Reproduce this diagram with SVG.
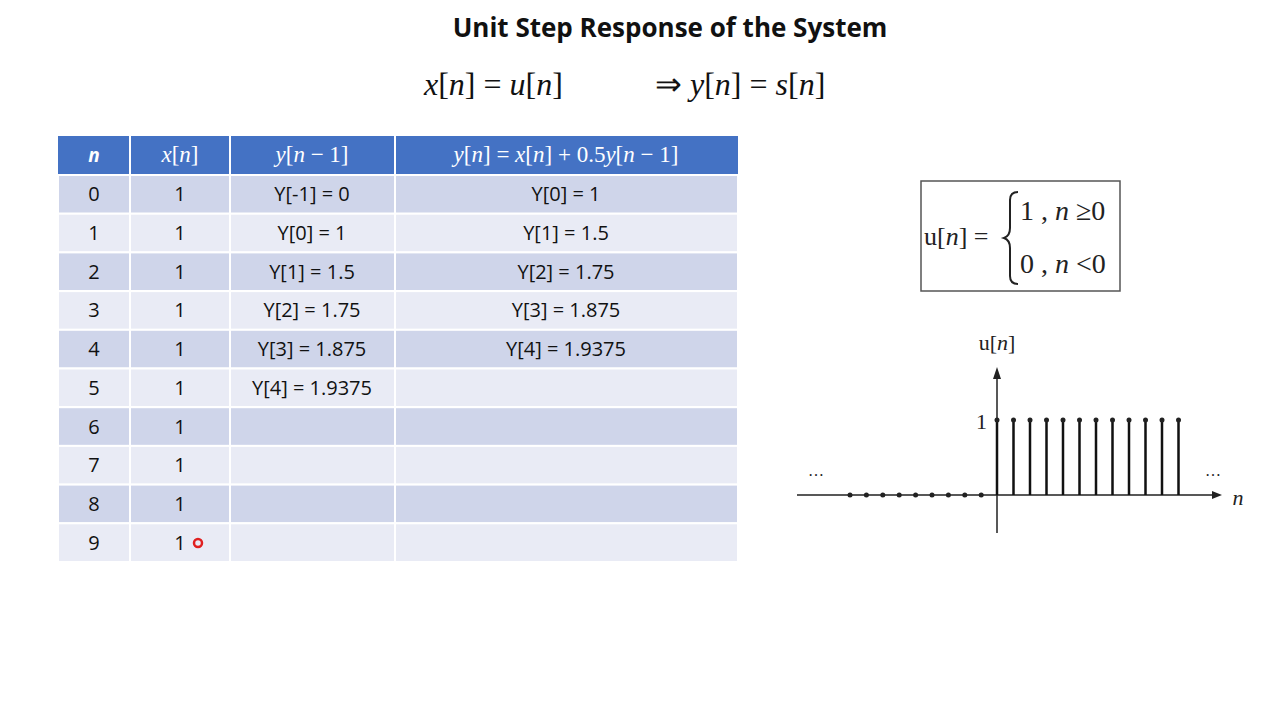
<svg xmlns="http://www.w3.org/2000/svg" width="1280" height="720" viewBox="0 0 1280 720">
<style>
.t{font-family:"Open Sans","Liberation Sans",sans-serif;font-size:20px;fill:#111;text-anchor:middle}
.m{font-family:"Liberation Serif",serif;font-size:23px;fill:#fff;text-anchor:middle}
.e{fill:#cfd5ea}.o{fill:#e9ebf5}
.s{stroke:#111;stroke-width:2.5}
</style>
<rect width="1280" height="720" fill="#fff"/>
<text x="670" y="37" style="font-family:'Open Sans','Liberation Sans',sans-serif;font-size:26px;font-weight:bold" text-anchor="middle" fill="#111">Unit Step Response of the System</text>
<g style="font-family:'Liberation Serif',serif;font-size:32px" fill="#111">
<text x="424" y="95"><tspan font-style="italic">x</tspan>[<tspan font-style="italic">n</tspan>] = <tspan font-style="italic">u</tspan>[<tspan font-style="italic">n</tspan>]</text>
<text x="655" y="95">⇒ <tspan font-style="italic">y</tspan>[<tspan font-style="italic">n</tspan>] = <tspan font-style="italic">s</tspan>[<tspan font-style="italic">n</tspan>]</text>
</g>
<g id="table">
<rect x="58" y="136" width="680" height="38" fill="#4472c4"/>
<g stroke="#fff" stroke-width="2">
<rect x="58" y="175" width="680" height="38.7" class="e"/>
<rect x="58" y="213.7" width="680" height="38.7" class="o"/>
<rect x="58" y="252.4" width="680" height="38.7" class="e"/>
<rect x="58" y="291.1" width="680" height="38.7" class="o"/>
<rect x="58" y="329.8" width="680" height="38.7" class="e"/>
<rect x="58" y="368.5" width="680" height="38.7" class="o"/>
<rect x="58" y="407.2" width="680" height="38.7" class="e"/>
<rect x="58" y="445.9" width="680" height="38.7" class="o"/>
<rect x="58" y="484.6" width="680" height="38.7" class="e"/>
<rect x="58" y="523.3" width="680" height="38.7" class="o"/>
<path d="M130 136V562M230 136V562M395 136V562"/>
</g>
<text x="94" y="162" style="font-family:'Open Sans','Liberation Sans',sans-serif;font-size:19px;font-weight:bold;font-style:italic" fill="#fff" text-anchor="middle">n</text>
<text class="m" x="180" y="162"><tspan font-style="italic">x</tspan>[<tspan font-style="italic">n</tspan>]</text>
<text class="m" x="312" y="162"><tspan font-style="italic">y</tspan>[<tspan font-style="italic">n</tspan> − 1]</text>
<text class="m" x="566" y="162"><tspan font-style="italic">y</tspan>[<tspan font-style="italic">n</tspan>] = <tspan font-style="italic">x</tspan>[<tspan font-style="italic">n</tspan>] + 0.5<tspan font-style="italic">y</tspan>[<tspan font-style="italic">n</tspan> − 1]</text>
<g class="t">
<text x="94" y="201">0</text><text x="180" y="201">1</text><text x="312" y="201">Y[-1] = 0</text><text x="566" y="201">Y[0] = 1</text>
<text x="94" y="240">1</text><text x="180" y="240">1</text><text x="312" y="240">Y[0] = 1</text><text x="566" y="240">Y[1] = 1.5</text>
<text x="94" y="279">2</text><text x="180" y="279">1</text><text x="312" y="279">Y[1] = 1.5</text><text x="566" y="279">Y[2] = 1.75</text>
<text x="94" y="317">3</text><text x="180" y="317">1</text><text x="312" y="317">Y[2] = 1.75</text><text x="566" y="317">Y[3] = 1.875</text>
<text x="94" y="356">4</text><text x="180" y="356">1</text><text x="312" y="356">Y[3] = 1.875</text><text x="566" y="356">Y[4] = 1.9375</text>
<text x="94" y="395">5</text><text x="180" y="395">1</text><text x="312" y="395">Y[4] = 1.9375</text>
<text x="94" y="434">6</text><text x="180" y="434">1</text>
<text x="94" y="472">7</text><text x="180" y="472">1</text>
<text x="94" y="511">8</text><text x="180" y="511">1</text>
<text x="94" y="550">9</text><text x="180" y="550">1</text>
</g>
<circle cx="198" cy="543" r="4" fill="none" stroke="#e02020" stroke-width="2.5"/>
</g>
<g id="def">
<rect x="921" y="181" width="199" height="110" fill="#fff" stroke="#555" stroke-width="1.5"/>
<text x="924" y="245" style="font-family:'Liberation Serif',serif;font-size:26px" fill="#222">u[<tspan font-style="italic">n</tspan>] =</text>
<path d="M1018 192 q-8 0 -8 8 v28 q0 8 -6 10 q6 2 6 10 v28 q0 8 8 8" fill="none" stroke="#222" stroke-width="2"/>
<text x="1020" y="220" style="font-family:'Liberation Serif',serif;font-size:28px" fill="#222">1 , <tspan font-style="italic">n</tspan> ≥0</text>
<text x="1020" y="273" style="font-family:'Liberation Serif',serif;font-size:28px" fill="#222">0 , <tspan font-style="italic">n</tspan> &lt;0</text>
</g>
<g id="plot">
<path d="M797 495H1214M997 533V378" stroke="#222" stroke-width="1.5"/>
<path d="M1222 495l-10 -4v8z M997 367l-4 12h8z" fill="#222"/>
<text x="997" y="350" style="font-family:'Liberation Serif',serif;font-size:22px" text-anchor="middle" fill="#222">u[<tspan font-style="italic">n</tspan>]</text>
<text x="1238" y="505" style="font-family:'Liberation Serif',serif;font-size:22px;font-style:italic" text-anchor="middle" fill="#222">n</text>
<text x="987" y="429" style="font-family:'Liberation Serif',serif;font-size:22px" text-anchor="end" fill="#222">1</text>
<text x="816" y="476" style="font-family:'Liberation Serif',serif;font-size:16px" text-anchor="middle" fill="#222">…</text>
<text x="1213" y="476" style="font-family:'Liberation Serif',serif;font-size:16px" text-anchor="middle" fill="#222">…</text>
<g class="s">
<path d="M997 420V495M1013.5 420V495M1030 420V495M1046.5 420V495M1063 420V495M1079.5 420V495M1096 420V495M1112.5 420V495M1129 420V495M1145.5 420V495M1162 420V495M1178.5 420V495"/>
</g>
<g fill="#222">
<circle cx="997" cy="420" r="2.5"/><circle cx="1013.5" cy="420" r="2.5"/><circle cx="1030" cy="420" r="2.5"/><circle cx="1046.5" cy="420" r="2.5"/><circle cx="1063" cy="420" r="2.5"/><circle cx="1079.5" cy="420" r="2.5"/><circle cx="1096" cy="420" r="2.5"/><circle cx="1112.5" cy="420" r="2.5"/><circle cx="1129" cy="420" r="2.5"/><circle cx="1145.5" cy="420" r="2.5"/><circle cx="1162" cy="420" r="2.5"/><circle cx="1178.5" cy="420" r="2.5"/>
<circle cx="850" cy="495" r="2.5"/><circle cx="866.4" cy="495" r="2.5"/><circle cx="882.8" cy="495" r="2.5"/><circle cx="899.2" cy="495" r="2.5"/><circle cx="915.6" cy="495" r="2.5"/><circle cx="932" cy="495" r="2.5"/><circle cx="948.4" cy="495" r="2.5"/><circle cx="964.8" cy="495" r="2.5"/><circle cx="981.2" cy="495" r="2.5"/>
</g>
</g>
</svg>
